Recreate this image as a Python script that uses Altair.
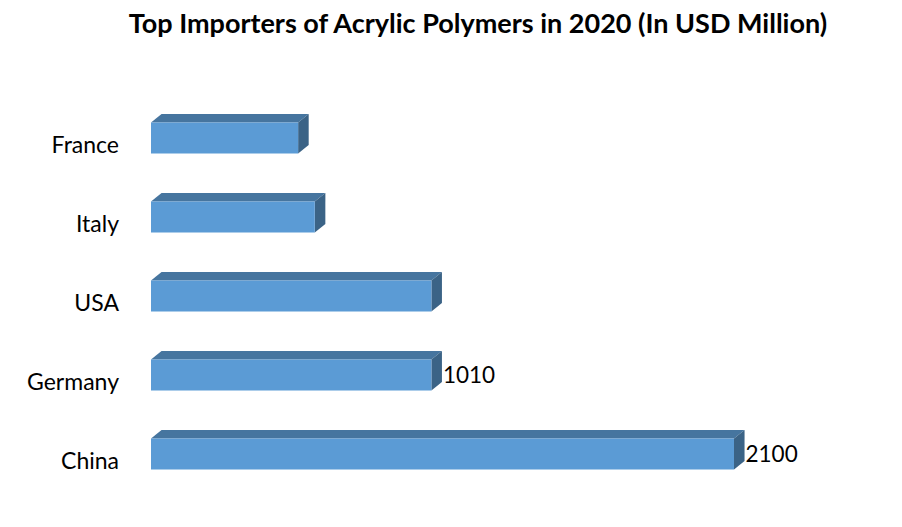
import altair as alt
import pandas as pd

categories = ["China", "Germany", "USA", "Italy", "France"]
values = [2100, 1010, 1010, 590, 530]
shown_labels = ["2100", "1010", "", "", ""]

DEPTH_X = 38      # value units
DEPTH_Y = 0.108   # category steps
HALF = 0.197      # category steps

TOP_PAD = 42
x_scale = alt.Scale(domain=[0, 2100], range=[143, 726])
y_scale = alt.Scale(domain=[0, 4], range=[446 - TOP_PAD, 130 - TOP_PAD])
X = lambda f: alt.X(f, type="quantitative", scale=x_scale, axis=None)
Y = lambda f: alt.Y(f, type="quantitative", scale=y_scale, axis=None)

front_rows, top_rows, side_rows = [], [], []
for i, (c, v, s) in enumerate(zip(categories, values, shown_labels)):
    t, b = i + HALF, i - HALF
    front_rows.append(dict(c=c, i=i, x=0, x2=v, y=b, y2=t, s=s, v=v))
    top_rows += [
        dict(c=c, x=0, y=t, y2=t),
        dict(c=c, x=DEPTH_X, y=t + DEPTH_Y, y2=t),
        dict(c=c, x=v, y=t + DEPTH_Y, y2=t),
        dict(c=c, x=v + DEPTH_X, y=t + DEPTH_Y, y2=t + DEPTH_Y),
    ]
    side_rows += [
        dict(c=c, x=v, y=t, y2=b),
        dict(c=c, x=v + DEPTH_X, y=t + DEPTH_Y, y2=b + DEPTH_Y),
    ]
front = pd.DataFrame(front_rows)
top = pd.DataFrame(top_rows)
side = pd.DataFrame(side_rows)

top_face = alt.Chart(top).mark_area(color="#46759F", opacity=1).encode(
    x=X("x"), y=Y("y"), y2="y2", detail="c:N")
side_face = alt.Chart(side).mark_area(color="#3B6386", opacity=1).encode(
    x=X("x"), y=Y("y"), y2="y2", detail="c:N")
front_face = alt.Chart(front).mark_rect(color="#5B9BD5").encode(
    x=X("x"), x2="x2", y=Y("y"), y2="y2")

FONT = "Lato"
cat_labels = alt.Chart(front).mark_text(
    align="right", baseline="middle", dx=-32, dy=7.5, font=FONT, fontSize=23, color="#000000"
).encode(x=X("x"), y=Y("i"), text="c:N")
val_labels = alt.Chart(front).mark_text(
    align="left", baseline="middle", dx=11.5, dy=1, font=FONT, fontSize=22.5, color="#000000"
).encode(x=X("x2"), y=Y("i"), text="s:N")

chart = (top_face + side_face + front_face + cat_labels + val_labels).properties(
    width=886,
    height=460,
    autosize=alt.AutoSizeParams(type="none"),
    padding={"left": 0, "top": TOP_PAD, "right": 0, "bottom": 0},
    title=alt.TitleParams(
        "Top Importers of Acrylic Polymers in 2020 (In USD Million)",
        font=FONT, fontSize=27, fontWeight="bold", color="#000000",
        anchor="middle", dx=27, offset=11,
    ),
).configure_view(stroke=None)

chart.save("out.html", embed_options={"renderer": "svg", "actions": False})
